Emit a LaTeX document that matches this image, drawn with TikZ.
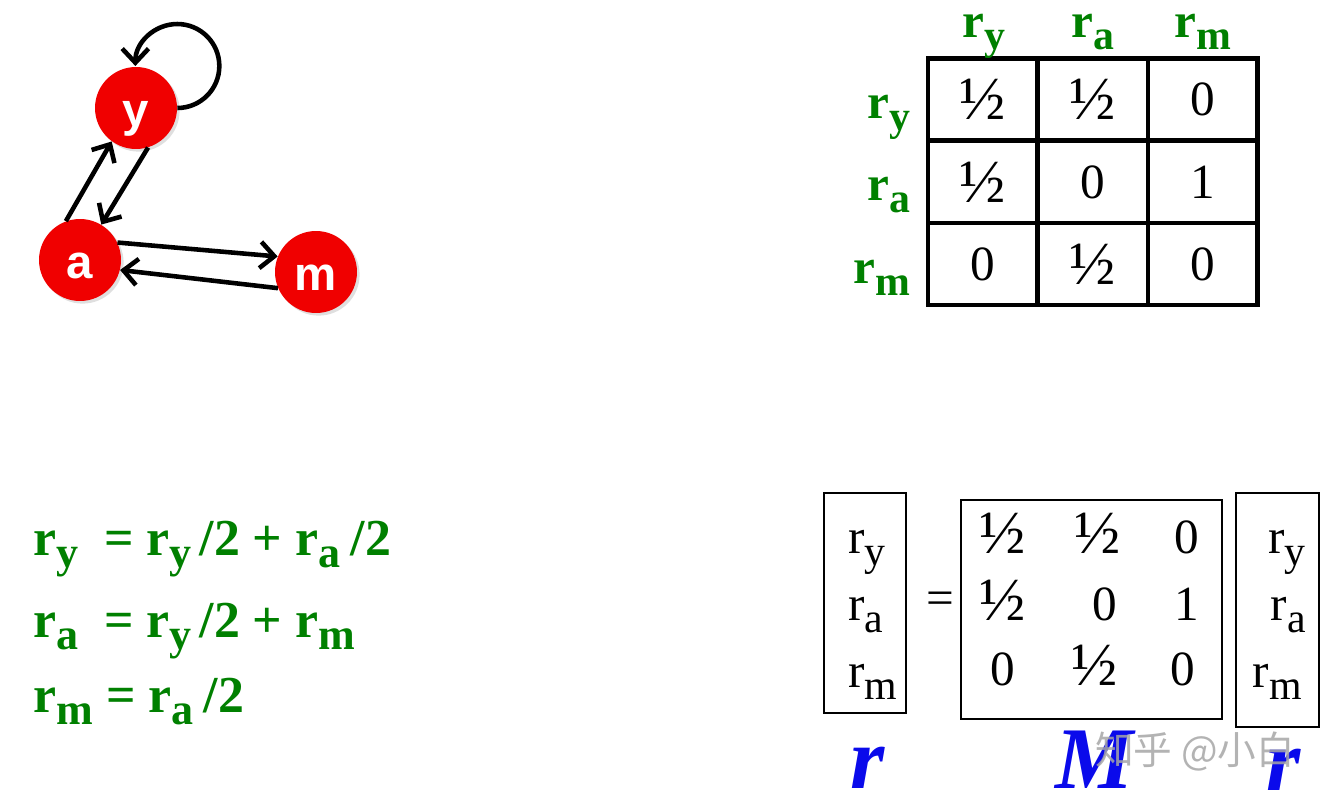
\documentclass[tikz,border=0pt]{standalone}
\usepackage{graphicx}
\usepackage{fontspec}
\setmainfont{Liberation Serif}
\newfontfamily\arialfont{Liberation Sans}
\newfontfamily\cjkfont{Noto Sans CJK SC}
\usetikzlibrary{arrows.meta,shadows}
\definecolor{eqgreen}{RGB}{0,128,0}
\definecolor{vecblue}{RGB}{10,10,235}
\definecolor{nodered}{RGB}{240,0,0}
\newcommand{\rsub}[1]{r\raisebox{-0.25em}{\scalebox{0.85}{#1}}}
\newcommand{\half}{\scalebox{1.25}{½}}

\begin{document}
\begin{tikzpicture}[x=0.02cm,y=0.02cm]
\tikzstyle{every node}+=[inner sep=0pt]
\tikzstyle{vertex}=[circle,fill=nodered,minimum size=1.64cm,text=white,text height=21.5pt,text depth=0pt,font=\arialfont\bfseries\fontsize{27}{27}\selectfont,drop shadow={opacity=0.25,shadow xshift=1.5pt,shadow yshift=-1.5pt}]
\tikzstyle{link}=[line width=2.6pt,-{Straight Barb[length=8pt,width=15pt]}]
\tikzstyle{cell}=[draw,line width=2.3pt,minimum width=2.2cm,minimum height=1.64cm,font=\fontsize{28}{28}\selectfont]
\tikzstyle{lbl}=[text=eqgreen,font=\bfseries\fontsize{28}{28}\selectfont]
\tikzstyle{eqn}=[text=eqgreen,font=\bfseries\fontsize{29.5}{29.5}\selectfont,anchor=base west]
\tikzstyle{entry}=[font=\fontsize{28}{28}\selectfont]
\tikzstyle{vecbox}=[draw,line width=1.4pt]
\tikzstyle{vlabel}=[text=vecblue,font=\bfseries\itshape\fontsize{50}{50}\selectfont]
\useasboundingbox (0,0) rectangle (1332,-808);
\node [vertex] (y) at (136,-108) {y};
\node [vertex] (a) at (80,-260) {a};
\node [vertex] (m) at (316,-272) {m};
\draw [link] (y.0) arc[start angle=-90,end angle=180,radius=0.84cm];
\draw [link] (a.110) -- (y.234);
\draw [link] (y.287) -- (a.59);
\draw [link] (a.25) -- (m.158);
\draw [link] (m.203) -- (a.-14);
\node [cell] (c11) at (982.5,-99.5) {\half};
\node [cell] (c12) at (1093,-99.5) {\half};
\node [cell] (c13) at (1202.5,-99.5) {0};
\node [cell] (c21) at (982.5,-182) {\half};
\node [cell] (c22) at (1093,-182) {0};
\node [cell] (c23) at (1202.5,-182) {1};
\node [cell] (c31) at (982.5,-264) {0};
\node [cell] (c32) at (1093,-264) {\half};
\node [cell] (c33) at (1202.5,-264) {0};
\node [lbl,anchor=base] (hy) at (984,-37) {\rsub{y}};
\node [lbl,anchor=base] (ha) at (1093,-37) {\rsub{a}};
\node [lbl,anchor=base] (hm) at (1203,-37) {\rsub{m}};
\node [lbl,anchor=base east] (ly) at (911,-118) {\rsub{y}};
\node [lbl,anchor=base east] (la) at (911,-200) {\rsub{a}};
\node [lbl,anchor=base east] (lm) at (911,-283) {\rsub{m}};
\node [eqn] (eq1) at (33,-555) {\rsub{y}\ \ = \rsub{y}\hspace{0.15em}/2 + \rsub{a}\hspace{0.2em}/2};
\node [eqn] (eq2) at (33,-637) {\rsub{a}\ \ = \rsub{y}\hspace{0.15em}/2 + \rsub{m}};
\node [eqn] (eq3) at (33,-712) {\rsub{m} = \rsub{a}\hspace{0.2em}/2};
\node [vecbox,minimum width=1.64cm,minimum height=4.4cm] (rleft) at (865,-603) {};
\node [vecbox,minimum width=5.22cm,minimum height=4.38cm] (mbox) at (1091.5,-609.5) {};
\node [vecbox,minimum width=1.66cm,minimum height=4.68cm] (rright) at (1277.5,-610) {};
\node [entry,anchor=base west] (ly2) at (848,-553) {\rsub{y}};
\node [entry,anchor=base west] (la2) at (848,-620) {\rsub{a}};
\node [entry,anchor=base west] (lm2) at (848,-687) {\rsub{m}};
\node [entry,anchor=base] (eqs) at (940,-614) {=};
\node [entry,anchor=base] (m11) at (1003,-553) {\half};
\node [entry,anchor=base] (m12) at (1098,-553) {\half};
\node [entry,anchor=base] (m13) at (1187,-553) {0};
\node [entry,anchor=base] (m21) at (1003,-620) {\half};
\node [entry,anchor=base] (m22) at (1105,-620) {0};
\node [entry,anchor=base] (m23) at (1187,-620) {1};
\node [entry,anchor=base] (m31) at (1003,-685) {0};
\node [entry,anchor=base] (m32) at (1095,-685) {\half};
\node [entry,anchor=base] (m33) at (1183,-685) {0};
\node [entry,anchor=base east] (ry2) at (1306,-553) {\rsub{y}};
\node [entry,anchor=base east] (ra2) at (1306,-620) {\rsub{a}};
\node [entry,anchor=base east] (rm2) at (1302,-687) {\rsub{m}};
\node [vlabel,anchor=base] (vr) at (868,-788) {r};
\node [vlabel,anchor=base] (vm) at (1095,-788) {M};
\node [vlabel,anchor=base] (vr2) at (1284,-790) {r};
\node [text=black!35,opacity=0.85,font=\cjkfont\fontsize{22}{22}\selectfont] (mark) at (1195,-752) {知乎 @小白};
\end{tikzpicture}
\end{document}
